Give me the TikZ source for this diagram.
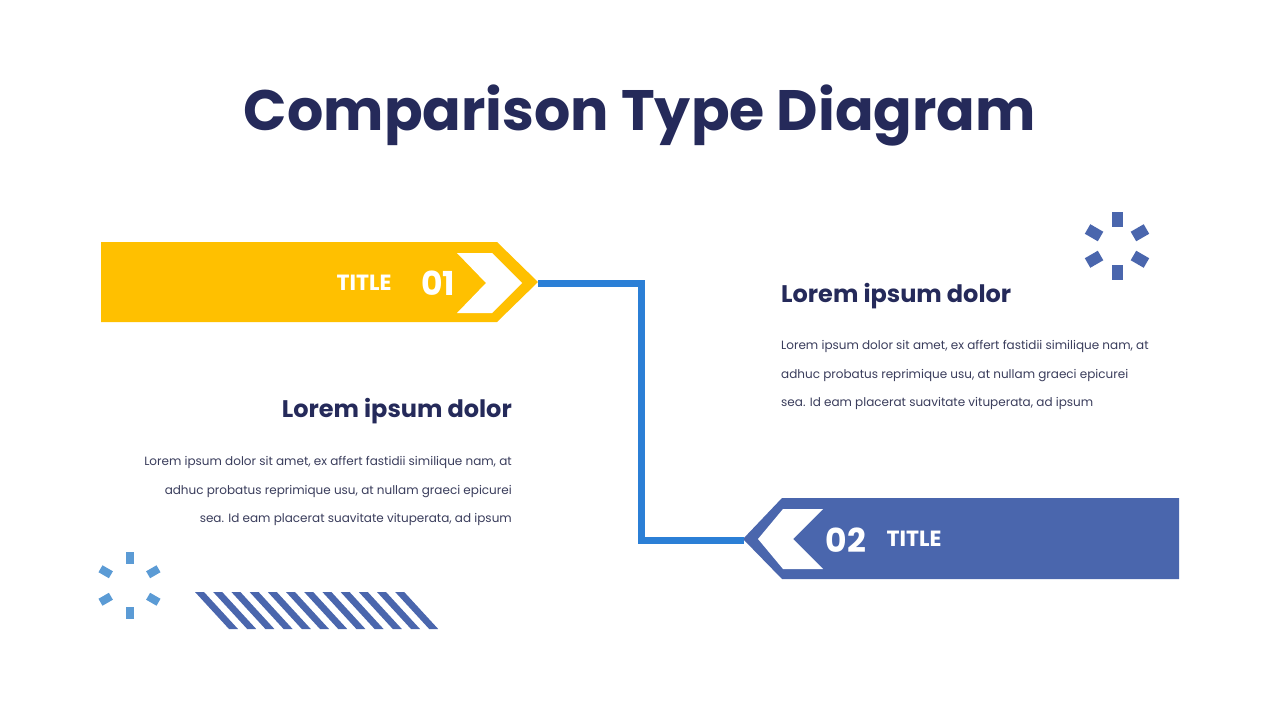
\documentclass[tikz,border=0pt]{standalone}
\usepackage{fontspec}
\setmainfont{Poppins}
\definecolor{titlenavy}{HTML}{252A5A}
\definecolor{bodygray}{HTML}{3A3D5C}
\definecolor{baryellow}{HTML}{FFC000}
\definecolor{barblue}{HTML}{4A66AD}
\definecolor{linkblue}{HTML}{2B7FD6}
\definecolor{dotblue}{HTML}{5B9BD5}
\tikzset{
  heading/.style = {inner sep = 0, text = titlenavy, font = \fontsize{24}{28}\selectfont\bfseries},
  bodytext/.style = {inner sep = 0, text = bodygray, font = \fontsize{12}{28.5}\selectfont},
  bartext/.style = {inner sep = 0, text = white, font = \bfseries}
}
\begin{document}
\begin{tikzpicture}[x = 1pt, y = -1pt]
      \useasboundingbox [fill = white] (0, 0) rectangle (1280, 720);
      % title
      \node [inner sep = 0, text = titlenavy, font = \fontsize{57}{62}\selectfont\bfseries] (title) at (640, 116) {Comparison Type Diagram};
      % yellow banner
      \fill [baryellow] (101, 242) -- (497, 242) -- (538, 282) -- (497, 322) -- (101, 322) -- cycle;
      \fill [white] (457, 253) -- (492, 253) -- (522, 283) -- (492, 313) -- (457, 313) -- (486, 283) -- cycle;
      \coordinate (tipa) at (538, 283);
      \node [bartext, font = \fontsize{22}{26}\selectfont\bfseries] (titlea) at (364, 283) {TITLE};
      \node [bartext, font = \fontsize{33}{36}\selectfont\bfseries] (numa) at (438, 283) {01};
      % blue banner
      \fill [barblue] (782, 498) -- (1179, 498) -- (1179, 579) -- (782, 579) -- (743, 539) -- cycle;
      \fill [white] (823, 509) -- (783, 509) -- (758, 539) -- (783, 569) -- (823, 569) -- (793, 539) -- cycle;
      \coordinate (tipb) at (744, 540);
      \node [bartext, font = \fontsize{33}{36}\selectfont\bfseries] (numb) at (846, 540) {02};
      \node [bartext, font = \fontsize{22}{26}\selectfont\bfseries] (titleb) at (914, 539) {TITLE};
      % connector
      \draw [linkblue, line width = 7] (tipa) -- ++(103, 0) |- (tipb);
      % texts
      \node [heading, anchor = west] (heada) at (781, 296) {Lorem ipsum dolor};
      \node [bodytext, anchor = west, align = left] (bodya) at (781, 375) {Lorem ipsum dolor sit amet, ex affert fastidii similique nam, at\\ adhuc probatus reprimique usu, at nullam graeci epicurei\\ sea. Id eam placerat suavitate vituperata, ad ipsum};
      \node [heading, anchor = east] (headb) at (512, 411) {Lorem ipsum dolor};
      \node [bodytext, anchor = east, align = right] (bodyb) at (512, 491) {Lorem ipsum dolor sit amet, ex affert fastidii similique nam, at\\ adhuc probatus reprimique usu, at nullam graeci epicurei\\ sea. Id eam placerat suavitate vituperata, ad ipsum};
      % decorations
      \foreach \a in {0, 60, ..., 300}
        \fill [barblue, shift = {(1117, 246)}, rotate = \a] (-5.5, 19) rectangle (5.5, 34);
      \foreach \a in {0, 60, ..., 300}
        \fill [dotblue, shift = {(129.5, 585.5)}, rotate = \a] (-4, 21.5) rectangle (4, 33.5);
      \foreach \i in {0, ..., 11}
        \fill [barblue] (195 + 18.2 * \i, 592) -- (204 + 18.2 * \i, 592) -- (238 + 18.2 * \i, 629) -- (229 + 18.2 * \i, 629) -- cycle;
    \end{tikzpicture}
\end{document}
